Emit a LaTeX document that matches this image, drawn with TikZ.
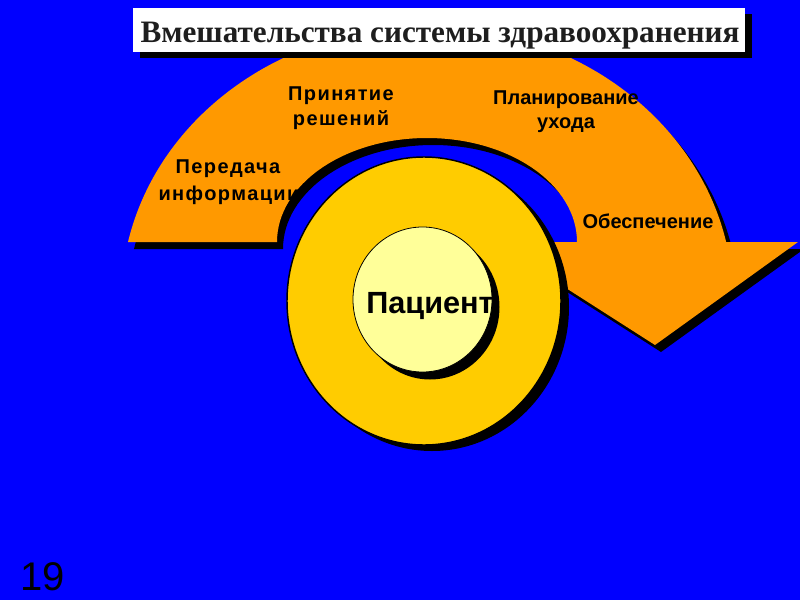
\documentclass[tikz,border=0pt]{standalone}
\usepackage{fontspec}
\setmainfont{Liberation Serif}
\newfontfamily\labfont{Liberation Sans}
\newfontfamily\labwide[LetterSpace=7]{Liberation Sans}
\definecolor{bgblue}{HTML}{0000FF}
\definecolor{arrorange}{HTML}{FF9900}
\definecolor{ringyellow}{HTML}{FFCC00}
\definecolor{paleyellow}{HTML}{FFFF99}
\definecolor{titletext}{HTML}{1E1E1E}
\newcommand\arrowpath{(128,242) arc[start angle=192.2, end angle=347.8, x radius=306, y radius=274] -- (798,242) -- (655,345) -- (494,242) -- (577,242) arc[start angle=360, end angle=180, x radius=150, y radius=104] -- cycle}
\tikzset{
  lab/.style={font=\labfont\bfseries\fontsize{15}{17}\selectfont, text=black, inner sep=0pt, anchor=base},
  labw/.style={lab, font=\labwide\bfseries\fontsize{15}{17}\selectfont},
  shadowfill/.style={fill=black},
}
\begin{document}
\begin{tikzpicture}[x=0.75pt,y=-0.75pt]
\useasboundingbox (0,0) rectangle (800,600);
\fill[bgblue] (0,0) rectangle (800,600);
% arrow
\begin{scope}[shift={(6,7)}]
  \fill[shadowfill] \arrowpath;
\end{scope}
\fill[arrorange] \arrowpath;
% labels on arrow
\node[labw] (l1a) at (341,100) {Принятие};
\node[labw] (l1b) at (341,125) {решений};
\node[labw] (l2a) at (228,173) {Передача};
\node[labw] (l2b) at (229,200) {информации};
\node[lab] (l3a) at (566,104) {Планирование};
\node[lab] (l3b) at (566,128) {ухода};
\node[lab] (l4) at (648,228) {Обеспечение};
% ring
\fill[shadowfill] (432,307) ellipse [x radius=137, y radius=144];
\filldraw[fill=ringyellow, draw=black, line width=1.1pt] (424,301) ellipse [x radius=137, y radius=144];
% inner circle
\fill[shadowfill] (430,307) ellipse [x radius=69.5, y radius=72.5];
\filldraw[fill=paleyellow, draw=black, line width=0.6pt] (422.5,299.5) ellipse [x radius=69.5, y radius=72.5];
\node[font=\labfont\bfseries\fontsize{23}{26}\selectfont, inner sep=0pt, anchor=base] (pat) at (430,313) {Пациент};
% title
\fill[shadowfill] (140,14) rectangle (752,58);
\fill[white] (133,8) rectangle (745,52);
\node[font=\bfseries\fontsize{23.4}{27}\selectfont, text=titletext, inner sep=0pt, anchor=base] (title) at (440,42) {Вмешательства системы здравоохранения};
% page number
\node[font=\labfont\fontsize{30}{34}\selectfont, inner sep=0pt, anchor=base] (num) at (43,590) {19};
\end{tikzpicture}
\end{document}
